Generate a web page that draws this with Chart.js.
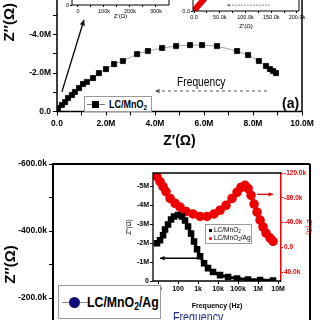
<!DOCTYPE html>
<html>
<head>
<meta charset="utf-8">
<script src="https://cdn.jsdelivr.net/npm/chart.js@4.4.0/dist/chart.umd.min.js"></script>
<style>
body { margin: 0; background: #fff; }
#wrap { position: relative; width: 320px; height: 320px; overflow: hidden; background: #fff; font-family: "Liberation Sans", Arial, sans-serif; }
canvas { position: absolute; }
.abs { position: absolute; white-space: nowrap; }
.box { position: absolute; border: 1px solid #999; background: #fff; box-sizing: border-box; }
sub { font-size: 70%; vertical-align: -0.25em; line-height: 0; }
.sx { transform: scaleX(0.82); transform-origin: left center; }
</style>
</head>
<body>
<div id="wrap">
    <canvas id="topMain"></canvas>
    <canvas id="insetA"></canvas>
    <canvas id="insetB"></canvas>
    <canvas id="botMain"></canvas>
    <canvas id="botInset"></canvas>

    <div class="box" style="left:84px;top:96px;width:68px;height:16px;">
        <div class="abs" style="left:2px;top:7px;width:18px;height:1px;background:#777;"></div>
        <div class="abs" style="left:7px;top:4px;width:7px;height:7px;background:#000;"></div>
        <div class="abs sx" style="left:24px;top:1px;font-size:11px;font-weight:bold;">LC/MnO<sub>2</sub></div>
    </div>
    <div class="abs" style="left:282px;top:95px;font-size:14px;font-weight:bold;">(a)</div>
    <div class="abs sx" style="left:177px;top:75px;font-size:12.5px;">Frequency</div>

    <div class="box" style="left:58px;top:285px;width:103px;height:34px;">
        <div class="abs" style="left:3px;top:16px;width:28px;height:1px;background:#888;"></div>
        <div class="abs" style="left:10px;top:11px;width:11px;height:11px;border-radius:50%;background:#0b0b78;"></div>
        <div class="abs sx" style="left:28px;top:7px;font-size:15px;font-weight:bold;">LC/MnO<sub>2</sub>/Ag</div>
    </div>
    <div class="abs" style="left:173px;top:309px;font-size:14px;color:#1e2d8c;transform:scaleX(0.76);transform-origin:left center;">Frequency</div>

    <div class="box" style="left:205px;top:224px;width:47px;height:20px;font-size:6.5px;">
        <div class="abs" style="left:3px;top:4px;width:3px;height:3px;background:#000;"></div>
        <div class="abs" style="left:8px;top:1px;">LC/MnO<sub>2</sub></div>
        <div class="abs" style="left:3px;top:12px;width:3px;height:3px;border-radius:50%;background:#e00;"></div>
        <div class="abs" style="left:8px;top:9px;">LC/MnO<sub>2</sub>/Ag</div>
    </div>
</div>

<script>
// Nyquist plot (top), values in MOhm
const nyqZre = [0.01, 0.04, 0.2, 0.33, 0.45, 0.61, 0.73, 0.9, 1.06, 1.22, 1.47, 1.71, 2.0, 2.33, 2.69, 3.27, 3.71,
    4.29, 4.86, 5.43, 5.92, 6.53, 7.35, 7.8, 8.24, 8.53, 8.69, 8.82, 8.94];
const nyqZim = [-0.06, -0.18, -0.34, -0.49, -0.70, -0.86, -1.02, -1.22, -1.43, -1.54, -1.74, -2.0, -2.21, -2.47, -2.63, -2.99, -3.15,
    -3.31, -3.41, -3.46, -3.46, -3.41, -3.15, -2.94, -2.63, -2.37, -2.21, -2.11, -2.0];
const nyqXTicks = [0, 1, 2, 3, 4, 5, 6, 7, 8, 9, 10];
const nyqYTicks = [-9, -8, -7, -6, -5, -4, -3, -2, -1, 0];

// small Nyquist insets (top), values in kOhm
const insetATicks = [0, 50, 100, 150, 200, 250, 300];
const insetBTicks = [0, 25, 50, 75, 100, 125, 150, 175, 200];
const insetBZre = [0, 3, 6, 9, 12, 15, 18, 21];
const insetBZim = [0, -4, -8, -11.5, -15, -18.5, -22, -26];

// bottom panel
const botYTicks = [-600, -500, -400, -300, -200, -100, 0];
const agZre = [];
const agZim = [];

// Bode inset (bottom)
const freqTicks = [10, 100, 1e3, 1e4, 1e5, 1e6, 1e7];
const freqLabels = ['10', '100', '1k', '10k', '100k', '1M', '10M'];
const mno2Freq = [8.9, 12.6, 17.8, 22.4, 31.6, 44.7, 63, 100, 158, 224, 316, 447, 631, 891, 1259, 2000, 3162, 5623,
    12600, 31600, 89000, 316000, 1260000, 5600000];
const mno2Zim = [-1.99, -2.15, -2.41, -2.72, -2.98, -3.25, -3.40, -3.48, -3.40, -3.19, -2.88, -2.51, -2.09, -1.68, -1.31, -0.94, -0.68, -0.47,
    -0.31, -0.21, -0.13, -0.08, -0.05, -0.03];
const agFreq = [8.9, 12.6, 17.8, 25, 40, 71, 126, 251, 562, 1259, 2818, 6310, 12600, 25000, 50000, 89000, 141000, 224000,
    316000, 447000, 631000, 891000, 1260000, 1780000, 2500000, 4000000, 5600000];
const agZim2 = [-114, -106, -98, -90, -79, -71, -65, -58, -54, -50, -50, -54, -60, -68, -79, -89, -97, -100,
    -95, -84, -70, -57, -44, -33, -23, -15, -10];
const bodeLeftTicks = [-5, -4, -3, -2, -1, 0];
const bodeRightTicks = [-120, -80, -40, 0, 40];

Chart.defaults.font.family = "'Liberation Sans', Arial, sans-serif";
Chart.defaults.color = '#000';
Chart.defaults.animation = false;
Chart.defaults.responsive = false;
Chart.defaults.plugins.legend.display = false;
Chart.defaults.plugins.tooltip.enabled = false;

const framePlugin = {
    id: 'frame',
    beforeDraw(chart, args, opts) {
        if (!opts.fill) return;
        const { ctx, chartArea: a } = chart;
        ctx.save();
        ctx.fillStyle = opts.fill;
        ctx.fillRect(a.left, a.top, a.right - a.left, a.bottom - a.top);
        ctx.restore();
    },
    afterDraw(chart, args, opts) {
        const { ctx, chartArea: a } = chart;
        ctx.save();
        ctx.strokeStyle = opts.color || '#000';
        ctx.lineWidth = opts.width || 1.5;
        ctx.beginPath();
        ctx.moveTo(a.right, a.top);
        ctx.lineTo(a.left, a.top);
        ctx.lineTo(a.left, a.bottom);
        ctx.lineTo(a.right, a.bottom);
        if (!opts.openRight) ctx.lineTo(a.right, a.top);
        ctx.stroke();
        ctx.restore();
    }
};

const arrowPlugin = {
    id: 'arrows',
    afterDatasetsDraw(chart, args, opts) {
        const ctx = chart.ctx;
        (opts.items || []).forEach(a => {
            const sx = chart.scales[a.xAxis || 'x'], sy = chart.scales[a.yAxis || 'y'];
            const x1 = sx.getPixelForValue(a.from[0]), y1 = sy.getPixelForValue(a.from[1]);
            const x2 = sx.getPixelForValue(a.to[0]), y2 = sy.getPixelForValue(a.to[1]);
            ctx.save();
            ctx.strokeStyle = ctx.fillStyle = a.color || '#000';
            ctx.lineWidth = a.width || 1.2;
            ctx.setLineDash(a.dash || []);
            ctx.beginPath();
            ctx.moveTo(x1, y1);
            ctx.lineTo(x2, y2);
            ctx.stroke();
            ctx.setLineDash([]);
            const ang = Math.atan2(y2 - y1, x2 - x1), h = a.head || 6;
            ctx.beginPath();
            ctx.moveTo(x2, y2);
            ctx.lineTo(x2 - h * Math.cos(ang - 0.45), y2 - h * Math.sin(ang - 0.45));
            ctx.lineTo(x2 - h * Math.cos(ang + 0.45), y2 - h * Math.sin(ang + 0.45));
            ctx.closePath();
            ctx.fill();
            ctx.restore();
        });
    }
};

Chart.register(framePlugin, arrowPlugin);

function place(id, left, top, w, h) {
    const c = document.getElementById(id);
    c.width = w;
    c.height = h;
    c.style.left = left + 'px';
    c.style.top = top + 'px';
    c.style.width = w + 'px';
    c.style.height = h + 'px';
    return c;
}

function fixed(vals) {
    return scale => { scale.ticks = vals.map(v => ({ value: v })); };
}

function tickGrid(color) {
    return { display: true, drawOnChartArea: false, drawTicks: true, tickLength: 4, color: color || '#000', lineWidth: 1 };
}

function toPoints(xs, ys) {
    return xs.map((x, i) => ({ x, y: ys[i] }));
}

// top main chart
new Chart(place('topMain', 0, -80, 320, 230), {
    type: 'scatter',
    data: {
        datasets: [{
            label: 'LC/MnO2',
            data: toPoints(nyqZre, nyqZim),
            showLine: true,
            borderColor: '#888',
            borderWidth: 0.8,
            pointStyle: 'rect',
            pointRadius: 3.6,
            backgroundColor: '#000',
            pointBorderColor: '#000'
        }]
    },
    options: {
        layout: { padding: { top: 13, right: 18, left: 0, bottom: 0 } },
        scales: {
            x: {
                min: 0, max: 10,
                afterBuildTicks: fixed(nyqXTicks),
                afterFit: s => { s.height = 38.5; },
                grid: tickGrid(),
                border: { display: false },
                ticks: {
                    font: { size: 8.5, weight: 'bold' }, padding: 3, maxRotation: 0, autoSkip: false,
                    callback: v => v % 2 ? '' : (v === 0 ? '0.0' : v.toFixed(1) + 'M')
                },
                title: { display: true, text: 'Z′(Ω)', font: { size: 14, weight: 'bold' }, padding: { top: 1, bottom: 0 } }
            },
            y: {
                min: -9.3, max: 0, reverse: true,
                afterBuildTicks: fixed(nyqYTicks),
                afterFit: s => { s.width = 57; },
                grid: tickGrid(),
                border: { display: false },
                ticks: {
                    font: { size: 8.5, weight: 'bold' }, padding: 2, autoSkip: false,
                    callback: v => v % 2 ? '' : (v === 0 ? '0.0' : v.toFixed(1) + 'M')
                },
                title: { display: true, text: 'Z″(Ω)', font: { size: 15, weight: 'bold' }, padding: { top: 1, bottom: 0 } }
            }
        },
        plugins: {
            frame: { width: 1.5 },
            arrows: {
                items: [
                    { from: [0.2, -1.02], to: [1.1, -4.77], width: 1.3, head: 6 },
                    { from: [8.57, -1.07], to: [4.0, -1.07], width: 1, dash: [3, 3], color: '#555', head: 5 }
                ]
            }
        }
    }
});

// top-left inset
new Chart(place('insetA', 58, -75, 117, 95), {
    type: 'scatter',
    data: { datasets: [{ data: [] }] },
    options: {
        layout: { padding: { top: 5, right: 6, left: 0, bottom: 0 } },
        scales: {
            x: {
                min: -23, max: 350,
                afterBuildTicks: fixed(insetATicks),
                afterFit: s => { s.height = 15; },
                grid: { ...tickGrid(), tickLength: 2 },
                border: { display: false },
                ticks: {
                    font: { size: 5.5 }, padding: 1, maxRotation: 0, autoSkip: false,
                    callback: v => v % 100 ? '' : (v === 0 ? '0' : v + 'k')
                },
                title: { display: true, text: 'Z′(Ω)', font: { size: 6 }, padding: { top: 0, bottom: 0 } }
            },
            y: {
                min: -292, max: 0, reverse: true,
                afterBuildTicks: fixed([0]),
                afterFit: s => { s.width = 14; },
                grid: { ...tickGrid(), tickLength: 2 },
                border: { display: false },
                ticks: { font: { size: 5.5 }, padding: 1, callback: () => '0' }
            }
        },
        plugins: { frame: { width: 1, fill: '#fff' } }
    }
});

// top-right inset
new Chart(place('insetB', 175, -70, 145, 100), {
    type: 'scatter',
    data: {
        datasets: [{
            data: toPoints(insetBZre, insetBZim),
            showLine: true,
            borderColor: '#e00',
            borderWidth: 3,
            pointRadius: 1.5,
            backgroundColor: '#e00',
            pointBorderColor: '#e00'
        }]
    },
    options: {
        layout: { padding: { top: 5, right: 21, left: 0, bottom: 0 } },
        scales: {
            x: {
                min: -2, max: 204,
                afterBuildTicks: fixed(insetBTicks),
                afterFit: s => { s.height = 19; },
                grid: { ...tickGrid(), tickLength: 2 },
                border: { display: false },
                ticks: {
                    font: { size: 5.5 }, padding: 1, maxRotation: 0, autoSkip: false,
                    callback: v => v % 50 ? '' : (v === 0 ? '0.0' : v.toFixed(1) + 'k')
                },
                title: { display: true, text: 'Z′(Ω)', font: { size: 6 }, padding: { top: 1, bottom: 0 } }
            },
            y: {
                min: -147.6, max: 0, reverse: true,
                afterBuildTicks: fixed([0]),
                afterFit: s => { s.width = 18; },
                grid: { ...tickGrid(), tickLength: 2 },
                border: { display: false },
                ticks: { font: { size: 5.5 }, padding: 1, callback: () => '0.0' }
            }
        },
        plugins: {
            frame: { width: 1, fill: '#fff' },
            arrows: { items: [{ from: [147, -11.7], to: [64, -11.7], width: 1, dash: [1.5, 1.5], color: '#666', head: 3 }] }
        }
    }
});

// bottom main chart
new Chart(place('botMain', 0, 150, 320, 230), {
    type: 'scatter',
    data: {
        datasets: [{
            label: 'LC/MnO2/Ag',
            data: toPoints(agZre, agZim),
            pointStyle: 'circle',
            pointRadius: 5,
            backgroundColor: '#0b0b78'
        }]
    },
    options: {
        layout: { padding: { top: 14, right: 10, left: 0, bottom: 0 } },
        scales: {
            x: {
                min: 0, max: 1000,
                afterFit: s => { s.height = 15; },
                grid: { display: false },
                border: { display: false },
                ticks: { display: false }
            },
            y: {
                min: -600, max: 0, reverse: true,
                afterBuildTicks: fixed(botYTicks),
                afterFit: s => { s.width = 53; },
                grid: tickGrid(),
                border: { display: false },
                ticks: {
                    font: { size: 8.5, weight: 'bold' }, padding: 2, autoSkip: false,
                    callback: v => v % 200 ? '' : v.toFixed(1) + 'k'
                },
                title: { display: true, text: 'Z″(Ω)', font: { size: 15, weight: 'bold' }, padding: { top: 2, bottom: 0 } }
            }
        },
        plugins: { frame: { width: 2 } }
    }
});

// Bode inset
new Chart(place('botInset', 125, 165, 195, 145), {
    type: 'scatter',
    data: {
        datasets: [
            {
                label: 'LC/MnO2',
                data: toPoints(mno2Freq, mno2Zim),
                yAxisID: 'y',
                showLine: true,
                borderColor: '#000',
                borderWidth: 3,
                pointStyle: 'rect',
                pointRadius: 2.5,
                backgroundColor: '#000',
                pointBorderColor: '#000'
            },
            {
                label: 'LC/MnO2/Ag',
                data: toPoints(agFreq, agZim2),
                yAxisID: 'yR',
                showLine: true,
                borderColor: '#e00',
                borderWidth: 4,
                pointStyle: 'circle',
                pointRadius: 2.8,
                backgroundColor: '#e00',
                pointBorderColor: '#e00'
            }
        ]
    },
    options: {
        layout: { padding: { top: 7, right: 7, left: 0, bottom: 0 } },
        scales: {
            x: {
                type: 'logarithmic', min: 5.6, max: 1.4e7,
                afterBuildTicks: fixed(freqTicks),
                afterFit: s => { s.height = 29; },
                grid: { ...tickGrid(), tickLength: 3 },
                border: { display: false },
                ticks: {
                    font: { size: 7, weight: 'bold' }, padding: 1, maxRotation: 0, autoSkip: false,
                    callback: (v, i) => freqLabels[i]
                },
                title: { display: true, text: 'Frequency (Hz)', font: { size: 7, weight: 'bold' }, padding: { top: 2, bottom: 0 } }
            },
            y: {
                position: 'left',
                min: -5.7, max: 0, reverse: true,
                afterBuildTicks: fixed(bodeLeftTicks),
                afterFit: s => { s.width = 28; },
                grid: { ...tickGrid(), tickLength: 3 },
                border: { display: false },
                ticks: {
                    font: { size: 7, weight: 'bold' }, padding: 1, autoSkip: false,
                    callback: v => v === 0 ? '0' : v + 'M'
                },
                title: { display: true, text: 'Z″(Ω)', font: { size: 6.5 }, padding: { top: 0, bottom: 1 } }
            },
            yR: {
                position: 'right',
                min: -120, max: 54, reverse: true,
                afterBuildTicks: fixed(bodeRightTicks),
                afterFit: s => { s.width = 32; },
                grid: { ...tickGrid('#e00'), tickLength: 2 },
                border: { display: true, color: '#e00', width: 1.5 },
                ticks: {
                    color: '#e00', font: { size: 6.5, weight: 'bold' }, padding: 1, autoSkip: false,
                    callback: v => v === 0 ? '0.0' : v.toFixed(1) + 'k'
                },
                title: { display: true, text: 'Z″(Ω)', color: '#e00', font: { size: 6.5 }, padding: { top: 0, bottom: 0 } }
            }
        },
        plugins: {
            frame: { width: 1.3, fill: '#fff', openRight: true },
            arrows: {
                items: [
                    { from: [1259, -1.2], to: [12.6, -1.2], width: 1.3, head: 5 },
                    { from: [891000, -85.6], to: [5600000, -85.6], yAxis: 'yR', color: '#e00', width: 1.3, head: 5 }
                ]
            }
        }
    }
});
</script>
</body>
</html>
